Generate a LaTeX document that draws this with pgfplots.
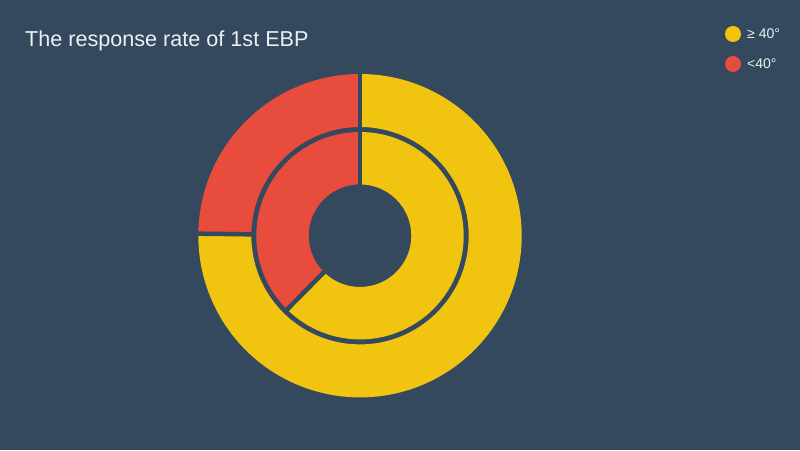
\documentclass[border=0pt]{standalone}
\usepackage{pgfplots}
\pgfplotsset{compat=1.18}
\usepackage{pgfplotstable}
\usepackage{fontspec}
\setmainfont{Liberation Sans}

\definecolor{bgc}{HTML}{34495E}
\definecolor{sunflower}{HTML}{F1C40F}
\definecolor{alizarin}{HTML}{E74C3C}
\definecolor{txt}{HTML}{ECF0F1}

% share of answers, per ring (percent)
\pgfplotstableread{
ring  ge40  lt40
outer 75.2  24.8
inner 62.4  37.6
}\ebpdata

\begin{document}
\begin{tikzpicture}
\pgfplotstablegetelem{0}{ge40}\of\ebpdata \let\outerge\pgfplotsretval
\pgfplotstablegetelem{1}{ge40}\of\ebpdata \let\innerge\pgfplotsretval
\pgfmathsetmacro{\outercut}{90-3.6*\outerge}
\pgfmathsetmacro{\innercut}{90-3.6*\innerge}
\begin{axis}[
    width=800pt, height=450pt,
    scale only axis,
    xmin=0, xmax=800, ymin=0, ymax=450,
    hide axis,
    clip=false,
]
\fill[bgc] (axis cs:0,0) rectangle (axis cs:800,450);
\coordinate (C) at (axis cs:360,214.3);
% outer ring
\fill[sunflower,shift={(C)}] (90:161.7) arc[start angle=90, end angle=\outercut, radius=161.7]
    -- (\outercut:108.7) arc[start angle=\outercut, end angle=90, radius=108.7] -- cycle;
\fill[alizarin,shift={(C)}] (\outercut:161.7) arc[start angle=\outercut, end angle=-270, radius=161.7]
    -- (-270:108.7) arc[start angle=-270, end angle=\outercut, radius=108.7] -- cycle;
% inner ring
\fill[sunflower,shift={(C)}] (90:103.7) arc[start angle=90, end angle=\innercut, radius=103.7]
    -- (\innercut:51.3) arc[start angle=\innercut, end angle=90, radius=51.3] -- cycle;
\fill[alizarin,shift={(C)}] (\innercut:103.7) arc[start angle=\innercut, end angle=-270, radius=103.7]
    -- (-270:51.3) arc[start angle=-270, end angle=\innercut, radius=51.3] -- cycle;
% separators
\draw[bgc,line width=4.5pt,shift={(C)}] (90:50) -- (90:163);
\draw[bgc,line width=4.5pt,shift={(C)}] (\outercut:107) -- (\outercut:163);
\draw[bgc,line width=4.5pt,shift={(C)}] (\innercut:50) -- (\innercut:105.5);
% title
\node[anchor=base west,text=txt,font=\fontsize{21.6}{24}\selectfont,inner sep=0pt]
    at (axis cs:25,403.3) {The response rate of 1st EBP};
% legend
\fill[sunflower] (axis cs:733,416) circle (8pt);
\fill[alizarin] (axis cs:733,386) circle (8pt);
\node[anchor=west,text=txt,font=\fontsize{14}{16}\selectfont,inner sep=0pt]
    at (axis cs:747,416) {≥ 40°};
\node[anchor=west,text=txt,font=\fontsize{14}{16}\selectfont,inner sep=0pt]
    at (axis cs:747,386) {<40°};
\end{axis}
\end{tikzpicture}
\end{document}
